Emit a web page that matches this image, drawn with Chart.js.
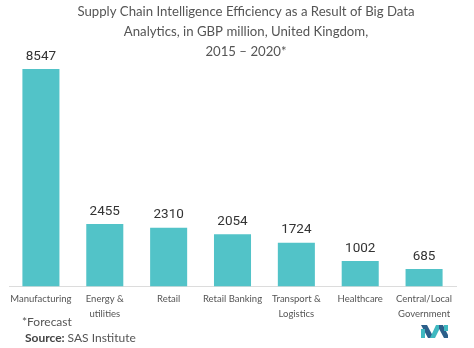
<!DOCTYPE html>
<html>
<head>
<meta charset="utf-8">
<script src="https://cdn.jsdelivr.net/npm/chart.js@4"></script>
<style>
  html, body { margin: 0; padding: 0; background: #fff; }
  #wrap { width: 474px; height: 348px; }
</style>
</head>
<body>
<div id="wrap"><canvas id="chart_plot" width="474" height="348"></canvas></div>
<script>
const titleLines = [
    'Supply Chain Intelligence Efficiency as a Result of Big Data',
    'Analytics, in GBP million, United Kingdom,',
    '2015 \u2013 2020*'
];
const categories = [
    'Manufacturing',
    ['Energy &', 'utilities'],
    'Retail',
    'Retail Banking',
    ['Transport &', 'Logistics'],
    'Healthcare',
    ['Central/Local', 'Government']
];
const values = [8547, 2455, 2310, 2054, 1724, 1002, 685];

// value labels above each bar
const valueLabels = {
    id: 'valueLabels',
    afterDatasetsDraw(chart) {
        const ctx = chart.ctx;
        const meta = chart.getDatasetMeta(0);
        ctx.save();
        ctx.fillStyle = '#333';
        ctx.font = '13.5px Roboto';
        ctx.textAlign = 'center';
        ctx.textBaseline = 'bottom';
        meta.data.forEach(function(bar, i) {
            ctx.fillText(String(values[i]), bar.x, bar.y - 6);
        });
        ctx.restore();
    }
};

// title, footer notes and logo
const decorations = {
    id: 'decorations',
    afterDraw(chart) {
        const ctx = chart.ctx;
        ctx.save();
        ctx.fillStyle = '#555';
        ctx.font = '13.2px Lato';
        ctx.textAlign = 'center';
        ctx.textBaseline = 'middle';
        titleLines.forEach(function(line, i) {
            ctx.fillText(line, 246, 12 + i * 20);
        });

        ctx.textAlign = 'left';
        ctx.font = '12px Lato';
        ctx.fillText('*Forecast', 22, 322);
        ctx.font = 'bold 12px Lato';
        ctx.fillStyle = '#444';
        ctx.fillText('Source:', 25, 338);
        const w = ctx.measureText('Source: ').width;
        ctx.font = '12px Lato';
        ctx.fillStyle = '#555';
        ctx.fillText('SAS Institute', 25 + w, 338);

        // logo
        ctx.fillStyle = '#2b5f8a';
        ctx.beginPath();
        ctx.moveTo(421, 325); ctx.lineTo(427, 325); ctx.lineTo(434, 338); ctx.lineTo(428, 338);
        ctx.closePath(); ctx.fill();
        ctx.beginPath();
        ctx.moveTo(437, 325); ctx.lineTo(443, 325); ctx.lineTo(448, 335); ctx.lineTo(448, 338); ctx.lineTo(444, 338);
        ctx.closePath(); ctx.fill();
        ctx.fillStyle = '#3fb8c0';
        ctx.fillRect(421, 329, 4, 9);
        ctx.beginPath();
        ctx.moveTo(430, 338); ctx.lineTo(436, 325); ctx.lineTo(439, 325); ctx.lineTo(439, 330); ctx.lineTo(435, 338);
        ctx.closePath(); ctx.fill();
        ctx.fillRect(444, 325, 4, 6);
        ctx.restore();
    }
};

new Chart(document.getElementById('chart_plot'), {
    type: 'bar',
    data: {
        labels: categories,
        datasets: [{
            data: values,
            backgroundColor: '#52c3c8',
            borderWidth: 0,
            barPercentage: 0.58,
            categoryPercentage: 1
        }]
    },
    options: {
        responsive: false,
        animation: false,
        layout: {
            padding: { top: 60, left: 9, right: 18, bottom: 22 }
        },
        plugins: {
            legend: { display: false },
            title: { display: false },
            tooltip: { enabled: false }
        },
        scales: {
            x: {
                grid: { display: false, drawTicks: false },
                border: { display: true, color: '#dcdcdc', width: 1 },
                ticks: {
                    color: '#555',
                    font: { family: 'Lato', size: 9.5, lineHeight: 1.55 },
                    padding: 5,
                    maxRotation: 0,
                    autoSkip: false
                }
            },
            y: {
                display: false,
                min: 0,
                max: 8900
            }
        }
    },
    plugins: [valueLabels, decorations]
});
</script>
</body>
</html>
